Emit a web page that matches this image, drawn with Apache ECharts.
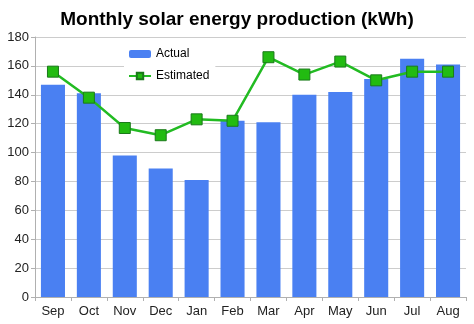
<!DOCTYPE html>
<html>
<head>
<meta charset="utf-8">
<script src="https://cdn.jsdelivr.net/npm/echarts@6/dist/echarts.min.js"></script>
<style>
  html, body { margin: 0; padding: 0; background: #fff; }
  #chart { width: 474px; height: 324px; }
</style>
</head>
<body>
<div id="chart"></div>
<script>
  // data
  var months = ['Sep', 'Oct', 'Nov', 'Dec', 'Jan', 'Feb', 'Mar', 'Apr', 'May', 'Jun', 'Jul', 'Aug'];
  var actual = [147, 141, 98, 89, 81, 122, 121, 140, 142, 151, 165, 161];
  var estimated = [156, 138, 117, 112, 123, 122, 166, 154, 163, 150, 156, 156];

  var myChart = echarts.init(document.getElementById('chart'));
  var font = 'Liberation Sans, Arial, sans-serif';

  myChart.setOption({
    animation: false,
    title: {
      text: 'Monthly solar energy production (kWh)',
      left: 'center',
      top: 5,
      textStyle: { fontFamily: font, fontSize: 19, fontWeight: 'bold', color: '#000' }
    },
    legend: {
      orient: 'vertical',
      left: 124,
      top: 46,
      itemGap: 10,
      itemWidth: 22,
      itemHeight: 8,
      backgroundColor: '#fff',
      padding: [2, 6, 2, 4],
      textStyle: { fontFamily: font, fontSize: 12, color: '#000' },
      data: ['Actual', 'Estimated']
    },
    grid: { left: 35, right: 8, top: 37, bottom: 27 },
    xAxis: {
      type: 'category',
      data: months,
      axisLine: { lineStyle: { color: '#b0b0b0' } },
      axisTick: { show: true, lineStyle: { color: '#b0b0b0' }, length: 4 },
      axisLabel: { fontFamily: font, fontSize: 13, color: '#222', margin: 8 }
    },
    yAxis: {
      type: 'value',
      min: 0,
      max: 180,
      interval: 20,
      axisLine: { show: true, lineStyle: { color: '#b0b0b0' } },
      axisTick: { show: true, lineStyle: { color: '#b0b0b0' }, length: 4 },
      axisLabel: { fontFamily: font, fontSize: 13, color: '#222', margin: 6 },
      splitLine: { lineStyle: { color: '#cccccc' } }
    },
    series: [
      {
        name: 'Actual',
        type: 'bar',
        data: actual,
        barCategoryGap: '33%',
        itemStyle: { color: '#4a80f2' }
      },
      {
        name: 'Estimated',
        type: 'line',
        data: estimated,
        symbol: 'rect',
        symbolSize: 11,
        lineStyle: { color: '#22bb22', width: 2.5 },
        itemStyle: { color: '#22bb11', borderColor: '#1a7a1a', borderWidth: 1 }
      }
    ]
  });
</script>
</body>
</html>
